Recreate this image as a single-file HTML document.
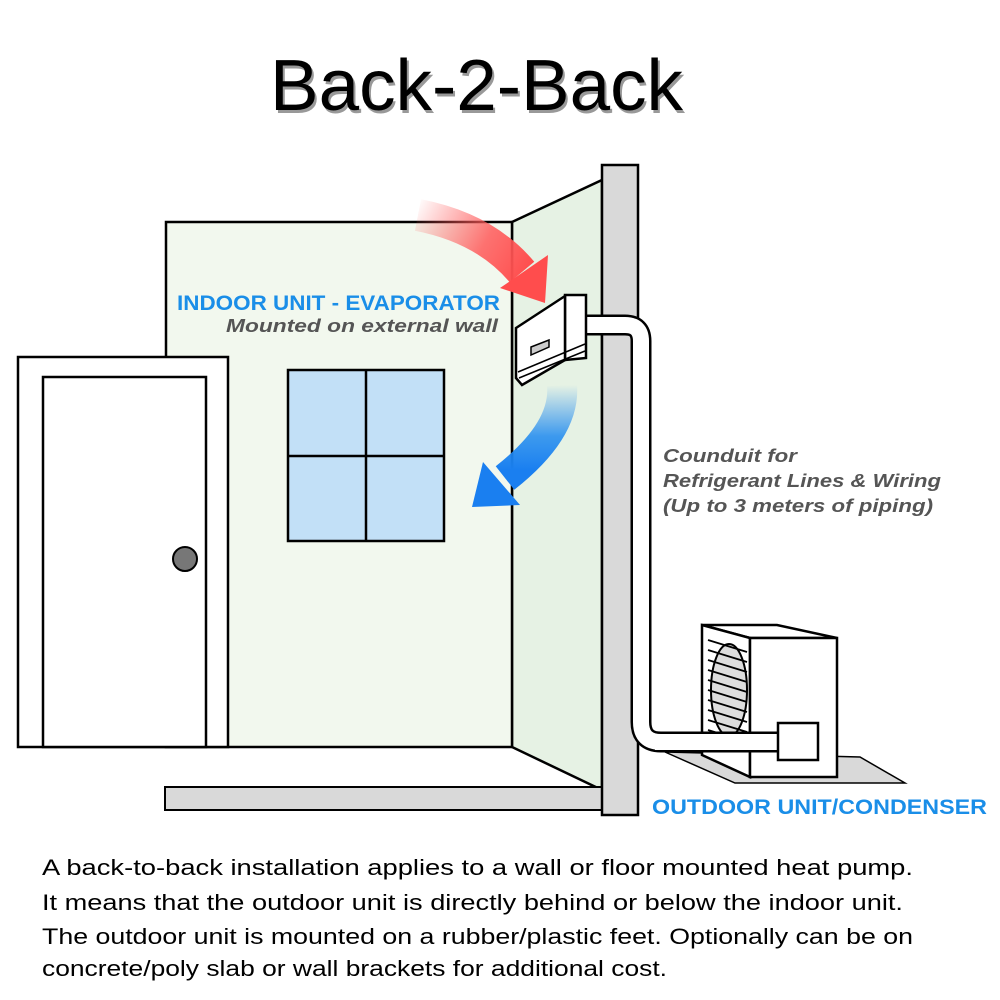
<!DOCTYPE html>
<html><head><meta charset="utf-8"><style>html,body{margin:0;padding:0;background:#fff}svg{display:block}</style></head>
<body>
<svg width="1000" height="1000" viewBox="0 0 1000 1000" xmlns="http://www.w3.org/2000/svg" font-family="Liberation Sans, sans-serif">
<defs>
<linearGradient id="rg" gradientUnits="userSpaceOnUse" x1="415" y1="205" x2="530" y2="270"><stop offset="0" stop-color="#ff5a5a" stop-opacity="0"/><stop offset="0.6" stop-color="#ff5a5a" stop-opacity="0.85"/><stop offset="1" stop-color="#ff4d4d"/></linearGradient>
<linearGradient id="bg" gradientUnits="userSpaceOnUse" x1="0" y1="385" x2="0" y2="470"><stop offset="0" stop-color="#1f8af0" stop-opacity="0"/><stop offset="0.6" stop-color="#1f8af0" stop-opacity="0.85"/><stop offset="1" stop-color="#1a7ff0"/></linearGradient>
</defs>
<text x="270" y="110" font-size="72" textLength="413" lengthAdjust="spacingAndGlyphs" fill="#999" transform="translate(2,3)">Back-2-Back</text>
<text x="270" y="110" font-size="72" textLength="413" lengthAdjust="spacingAndGlyphs" fill="#000">Back-2-Back</text>
<polygon points="512,222 602,180 602,790 512,747" fill="#e6f2e4" stroke="#000" stroke-width="2.5"/>
<rect x="165" y="787" width="437" height="23" fill="#d9d9d9" stroke="#000" stroke-width="2"/>
<rect x="166" y="222" width="346" height="525" fill="#f2f8ee" stroke="#000" stroke-width="2.5"/>
<rect x="602" y="165" width="36" height="650" fill="#d9d9d9" stroke="#000" stroke-width="2.5"/>
<rect x="18" y="357" width="210" height="390" fill="#fff" stroke="#000" stroke-width="2.5"/>
<rect x="43" y="377" width="163" height="370" fill="#fff" stroke="#000" stroke-width="2.5"/>
<circle cx="185" cy="559" r="12" fill="#777" stroke="#000" stroke-width="2"/>
<rect x="288" y="370" width="156" height="171" fill="#c2e0f7" stroke="#000" stroke-width="2.5"/>
<line x1="366" y1="370" x2="366" y2="541" stroke="#000" stroke-width="2.5"/>
<line x1="288" y1="456" x2="444" y2="456" stroke="#000" stroke-width="2.5"/>
<!-- red arrow -->
<path d="M418,215 Q485,228 522,272" stroke="url(#rg)" stroke-width="32" fill="none"/>
<polygon points="500,288 548,255 545,303" fill="#ff4d4d"/>
<!-- blue arrow -->
<path d="M562,385 Q566,430 505,478" stroke="url(#bg)" stroke-width="30" fill="none"/>
<polygon points="483,462 520,505 472,507" fill="#1a7ff0"/>
<!-- pipe -->
<path d="M586,325 L625,325 Q641,325 641,341 L641,722 Q641,742 661,742 L780,742" stroke="#000" stroke-width="21" fill="none"/>
<path d="M586,325 L625,325 Q641,325 641,341 L641,722 Q641,742 661,742 L780,742" stroke="#fff" stroke-width="16" fill="none"/>
<!-- indoor unit -->
<polygon points="565,295 586,295 586,358 565,360" fill="#fff" stroke="#000" stroke-width="2.5"/>
<polygon points="516,328 565,296 565,360 522,385 516,378" fill="#fff" stroke="#000" stroke-width="2.5"/>
<line x1="518" y1="372" x2="585" y2="344" stroke="#000" stroke-width="1.5"/>
<line x1="519" y1="378" x2="585" y2="351" stroke="#000" stroke-width="1.5"/>
<polygon points="531,347 549,340 549,347 531,355" fill="#ccc" stroke="#000" stroke-width="1.5"/>
<!-- outdoor pad -->
<polygon points="665,752 860,757 905,783 735,783" fill="#d9d9d9" stroke="#000" stroke-width="1.5"/>
<polygon points="702,625 777,625 837,638 750,638" fill="#fff" stroke="#000" stroke-width="2.5"/>
<polygon points="702,625 750,638 750,777 702,755" fill="#fff" stroke="#000" stroke-width="2.5"/>
<ellipse cx="729" cy="690" rx="18" ry="46" fill="#ddd" stroke="#000" stroke-width="2"/>
<g stroke="#000" stroke-width="1.8">
<line x1="708" y1="640" x2="747" y2="652"/><line x1="708" y1="650" x2="747" y2="662"/><line x1="708" y1="660" x2="747" y2="672"/><line x1="708" y1="670" x2="747" y2="682"/><line x1="708" y1="680" x2="747" y2="692"/><line x1="708" y1="690" x2="747" y2="702"/><line x1="708" y1="700" x2="747" y2="712"/><line x1="708" y1="710" x2="747" y2="722"/><line x1="708" y1="720" x2="747" y2="732"/><line x1="708" y1="730" x2="747" y2="742"/>
</g>
<rect x="750" y="638" width="87" height="139" fill="#fff" stroke="#000" stroke-width="2.5"/>
<path d="M661,742 L778,742" stroke="#000" stroke-width="21"/>
<path d="M655,742 L780,742" stroke="#fff" stroke-width="16"/>
<rect x="778" y="723" width="40" height="37" fill="#fff" stroke="#000" stroke-width="2.5"/>
<text x="177" y="310" font-size="21" font-weight="bold" fill="#1a8ee8" textLength="323" lengthAdjust="spacingAndGlyphs">INDOOR UNIT - EVAPORATOR</text>
<text x="226" y="332" font-size="18" font-weight="bold" font-style="italic" fill="#555" textLength="272" lengthAdjust="spacingAndGlyphs">Mounted on external wall</text>
<g font-size="18" font-weight="bold" font-style="italic" fill="#555">
<text x="663" y="462" textLength="134" lengthAdjust="spacingAndGlyphs">Counduit for</text>
<text x="663" y="487" textLength="278" lengthAdjust="spacingAndGlyphs">Refrigerant Lines &amp; Wiring</text>
<text x="663" y="512" textLength="270" lengthAdjust="spacingAndGlyphs">(Up to 3 meters of piping)</text>
</g>
<text x="652" y="814" font-size="21" font-weight="bold" fill="#1a8ee8" textLength="335" lengthAdjust="spacingAndGlyphs">OUTDOOR UNIT/CONDENSER</text>
<g font-size="22" fill="#000">
<text x="42" y="875" textLength="871" lengthAdjust="spacingAndGlyphs">A back-to-back installation applies to a wall or floor mounted heat pump.</text>
<text x="42" y="910" textLength="861" lengthAdjust="spacingAndGlyphs">It means that the outdoor unit is directly behind or below the indoor unit.</text>
<text x="42" y="944" textLength="871" lengthAdjust="spacingAndGlyphs">The outdoor unit is mounted on a rubber/plastic feet. Optionally can be on</text>
<text x="42" y="976" textLength="625" lengthAdjust="spacingAndGlyphs">concrete/poly slab or wall brackets for additional cost.</text>
</g>
</svg>
</body></html>
